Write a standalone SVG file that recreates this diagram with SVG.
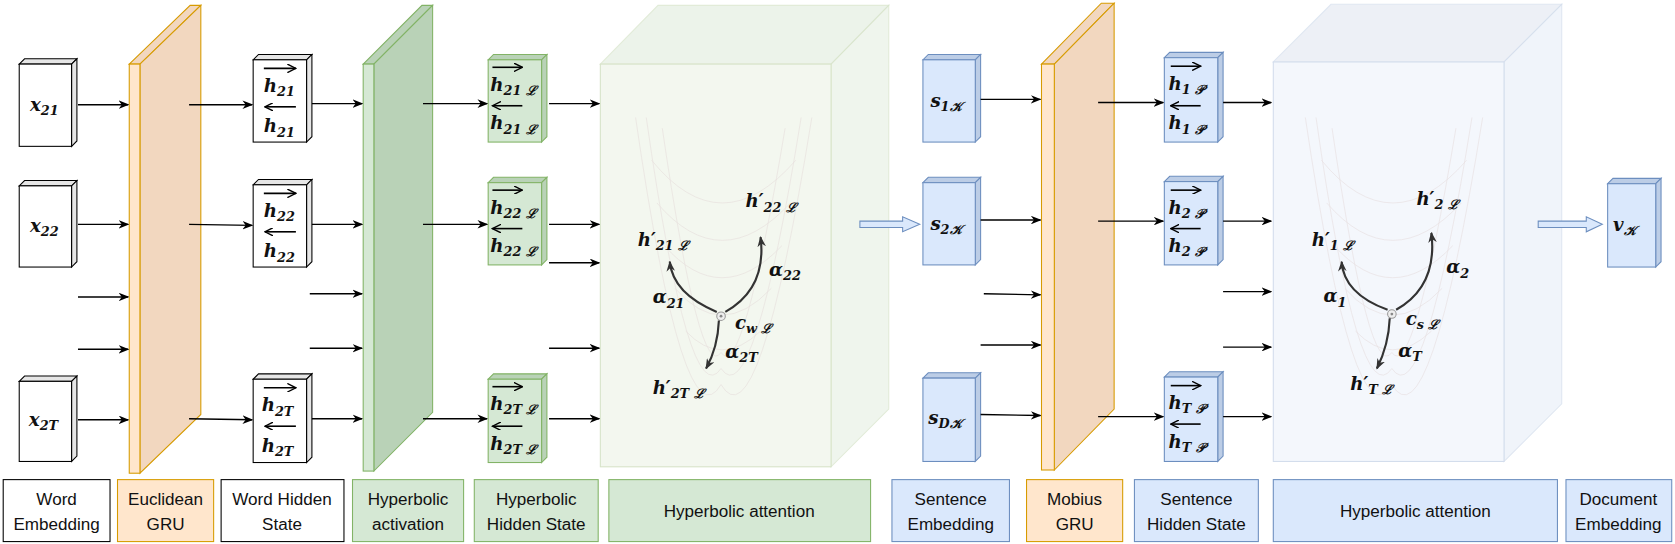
<svg xmlns="http://www.w3.org/2000/svg" width="1675" height="544" viewBox="0 0 1675 544">
<style>
.m{font-family:"DejaVu Serif",serif;font-style:italic;font-weight:bold;font-size:17px;fill:#111}
.s{font-size:12px}
.lg{font-family:"Liberation Sans",Arial,sans-serif;font-size:16px;fill:#111;text-anchor:middle}
.w{fill:#fff;stroke:#000;stroke-width:1}
.wt{fill:#e6e6e6;stroke:#000}
.g{fill:#d5e8d4;stroke:#82b366}
.gt{fill:#b9d2b7;stroke:#82b366}
.b{fill:#dae8fc;stroke:#6c8ebf}
.bt{fill:#bccde6;stroke:#6c8ebf}
.o{fill:#ffe6cc;stroke:#d79b00}
.ol{fill:#f2d7bf;stroke:#d79b00}
.a{stroke:#000;stroke-width:1.3;fill:none;marker-end:url(#ah)}
.ov{stroke:#000;stroke-width:1.5;fill:none}
.cv{stroke:#333;stroke-width:2;fill:none;marker-end:url(#ah2)}
.mesh{stroke:#e3d6d6;stroke-width:0.6;fill:none;opacity:0.7}
</style>
<defs>
<marker id="ah" markerWidth="10" markerHeight="8" refX="9" refY="4" orient="auto" markerUnits="userSpaceOnUse"><path d="M0,0 L10,4 L0,8 L3,4 z" fill="#000"/></marker>
<marker id="ah2" markerWidth="10" markerHeight="8" refX="9" refY="4" orient="auto" markerUnits="userSpaceOnUse"><path d="M0,0 L10,4 L0,8 L3,4 z" fill="#333"/></marker>
<marker id="ov" markerWidth="9" markerHeight="8" refX="8" refY="4" orient="auto" markerUnits="userSpaceOnUse"><path d="M0,0 L8,4 L0,8" fill="none" stroke="#000" stroke-width="1.3"/></marker>
</defs>
<g transform="scale(1.0682)">
<g id="attnL">
<polygon points="562,60 616,5 832,5 778,60" fill="#e4eee2" stroke="#d6e3c8" opacity="0.7"/>
<polygon points="778,60 832,5 832,383 778,437" fill="#e9f1e6" stroke="#d6e3c8" opacity="0.7"/>
<rect x="562" y="60" width="216" height="377" fill="#f3f7ef" stroke="#d6e3c8"/>
<g class="mesh">
<path d="M595,110 Q640,420 675,360 Q710,420 760,110"/>
<path d="M605,110 Q645,390 675,345 Q705,390 750,110"/>
<path d="M620,120 Q655,360 675,330 Q695,360 735,120"/>
<path d="M610,150 Q675,230 745,150"/>
<path d="M615,190 Q675,260 740,190"/>
<path d="M622,230 Q675,290 732,230"/>
<path d="M632,270 Q675,320 722,270"/>
<path d="M642,310 Q675,345 712,310"/>
</g>
</g>
<g id="attnR">
<polygon points="1192,58 1246,4 1462,4 1408,58" fill="#e6ebf3" stroke="#d3ddec" opacity="0.7"/>
<polygon points="1408,58 1462,4 1462,378 1408,432" fill="#eaf0f8" stroke="#d3ddec" opacity="0.7"/>
<rect x="1192" y="58" width="216" height="374" fill="#f4f7fc" stroke="#d3ddec"/>
<g class="mesh">
<path d="M1222,110 Q1268,420 1303,360 Q1338,420 1388,110"/>
<path d="M1232,110 Q1272,390 1303,345 Q1333,390 1378,110"/>
<path d="M1247,120 Q1282,360 1303,330 Q1323,360 1363,120"/>
<path d="M1237,150 Q1303,230 1373,150"/>
<path d="M1242,190 Q1303,260 1368,190"/>
<path d="M1249,230 Q1303,290 1360,230"/>
<path d="M1259,270 Q1303,320 1350,270"/>
<path d="M1269,310 Q1303,345 1340,310"/>
</g>
</g>

<g id="x21"><polygon class="wt" points="18,60 23,55 72,55 67,60"/><polygon class="wt" points="67,60 72,55 72,132 67,137"/><rect class="w" x="18" y="60" width="49" height="77"/><text class="m" x="28" y="104">x<tspan class="s" dy="4">21</tspan></text></g>
<g id="x22"><polygon class="wt" points="18,174 23,169 72,169 67,174"/><polygon class="wt" points="67,174 72,169 72,245 67,250"/><rect class="w" x="18" y="174" width="49" height="76"/><text class="m" x="28" y="217">x<tspan class="s" dy="4">22</tspan></text></g>
<g id="x2T"><polygon class="wt" points="18,357 23,352 72,352 67,357"/><polygon class="wt" points="67,357 72,352 72,427 67,432"/><rect class="w" x="18" y="357" width="49" height="75"/><text class="m" x="27" y="399">x<tspan class="s" dy="4">2T</tspan></text></g>

<g id="egru"><polygon class="ol" points="121,60 178,5 188,5 131,60"/><polygon class="ol" points="131,60 188,5 188,388 131,443"/><rect class="o" x="121" y="60" width="10" height="383"/></g>

<g id="h21"><polygon class="wt" points="237,56 242,51 292,51 287,56"/><polygon class="wt" points="287,56 292,51 292,128 287,133"/><rect class="w" x="237" y="56" width="50" height="77"/>
<line class="ov" x1="247" y1="64" x2="277" y2="64" marker-end="url(#ov)"/><text class="m" x="247" y="86">h<tspan class="s" dy="4">21</tspan></text>
<line class="ov" x1="277" y1="100" x2="248" y2="100" marker-end="url(#ov)"/><text class="m" x="247" y="124">h<tspan class="s" dy="4">21</tspan></text></g>
<g id="h22"><polygon class="wt" points="237,173 242,168 292,168 287,173"/><polygon class="wt" points="287,173 292,168 292,245 287,250"/><rect class="w" x="237" y="173" width="50" height="77"/>
<line class="ov" x1="247" y1="181" x2="277" y2="181" marker-end="url(#ov)"/><text class="m" x="247" y="203">h<tspan class="s" dy="4">22</tspan></text>
<line class="ov" x1="277" y1="217" x2="248" y2="217" marker-end="url(#ov)"/><text class="m" x="247" y="241">h<tspan class="s" dy="4">22</tspan></text></g>
<g id="h2T"><polygon class="wt" points="237,355 242,350 292,350 287,355"/><polygon class="wt" points="287,355 292,350 292,428 287,433"/><rect class="w" x="237" y="355" width="50" height="78"/>
<line class="ov" x1="247" y1="363" x2="277" y2="363" marker-end="url(#ov)"/><text class="m" x="245" y="385">h<tspan class="s" dy="4">2T</tspan></text>
<line class="ov" x1="277" y1="399" x2="248" y2="399" marker-end="url(#ov)"/><text class="m" x="245" y="423">h<tspan class="s" dy="4">2T</tspan></text></g>

<g id="hact"><polygon class="gt" points="340,60 395,5 405,5 350,60"/><polygon class="gt" points="350,60 405,5 405,386 350,441"/><rect class="g" x="340" y="60" width="10" height="381"/></g>

<g id="hl21"><polygon class="gt" points="457,56 462,51 512,51 507,56"/><polygon class="gt" points="507,56 512,51 512,128 507,133"/><rect class="g" x="457" y="56" width="50" height="77"/>
<line class="ov" x1="461" y1="63" x2="489" y2="63" marker-end="url(#ov)"/><text class="m" x="459" y="85">h<tspan class="s" dy="4">21 ℒ</tspan></text>
<line class="ov" x1="489" y1="99" x2="461" y2="99" marker-end="url(#ov)"/><text class="m" x="459" y="121">h<tspan class="s" dy="4">21 ℒ</tspan></text></g>
<g id="hl22"><polygon class="gt" points="457,171 462,166 512,166 507,171"/><polygon class="gt" points="507,171 512,166 512,243 507,248"/><rect class="g" x="457" y="171" width="50" height="77"/>
<line class="ov" x1="461" y1="178" x2="489" y2="178" marker-end="url(#ov)"/><text class="m" x="459" y="200">h<tspan class="s" dy="4">22 ℒ</tspan></text>
<line class="ov" x1="489" y1="214" x2="461" y2="214" marker-end="url(#ov)"/><text class="m" x="459" y="236">h<tspan class="s" dy="4">22 ℒ</tspan></text></g>
<g id="hl2T"><polygon class="gt" points="457,355 462,350 512,350 507,355"/><polygon class="gt" points="507,355 512,350 512,428 507,433"/><rect class="g" x="457" y="355" width="50" height="78"/>
<line class="ov" x1="461" y1="362" x2="489" y2="362" marker-end="url(#ov)"/><text class="m" x="459" y="384">h<tspan class="s" dy="4">2T ℒ</tspan></text>
<line class="ov" x1="489" y1="399" x2="461" y2="399" marker-end="url(#ov)"/><text class="m" x="459" y="421">h<tspan class="s" dy="4">2T ℒ</tspan></text></g>

<g id="attnLlabels">
<circle cx="675" cy="296" r="4" fill="#eee" stroke="#999"/><circle cx="675" cy="296" r="1.3" fill="#888"/>
<text class="m" x="597" y="230">h′<tspan class="s" dy="4">21 ℒ</tspan></text>
<text class="m" x="698" y="194">h′<tspan class="s" dy="4">22 ℒ</tspan></text>
<text class="m" x="611" y="284">α<tspan class="s" dy="4">21</tspan></text>
<text class="m" x="720" y="258">α<tspan class="s" dy="4">22</tspan></text>
<text class="m" x="688" y="308">c<tspan class="s" dy="4">w ℒ</tspan></text>
<text class="m" x="679" y="335">α<tspan class="s" dy="4">2T</tspan></text>
<text class="m" x="611" y="369">h′<tspan class="s" dy="4">2T ℒ</tspan></text>
</g>
<g id="attnRlabels">
<circle cx="1303" cy="294" r="4" fill="#eee" stroke="#999"/><circle cx="1303" cy="294" r="1.3" fill="#888"/>
<text class="m" x="1228" y="230">h′<tspan class="s" dy="4">1 ℒ</tspan></text>
<text class="m" x="1326" y="192">h′<tspan class="s" dy="4">2 ℒ</tspan></text>
<text class="m" x="1239" y="283">α<tspan class="s" dy="4">1</tspan></text>
<text class="m" x="1354" y="256">α<tspan class="s" dy="4">2</tspan></text>
<text class="m" x="1316" y="304">c<tspan class="s" dy="4">s ℒ</tspan></text>
<text class="m" x="1309" y="334">α<tspan class="s" dy="4">T</tspan></text>
<text class="m" x="1264" y="365">h′<tspan class="s" dy="4">T ℒ</tspan></text>
</g>

<g id="s1K"><polygon class="bt" points="864,56 869,51 918,51 913,56"/><polygon class="bt" points="913,56 918,51 918,128 913,133"/><rect class="b" x="864" y="56" width="49" height="77"/><text class="m" x="871" y="100">s<tspan class="s" dy="4">1𝒦</tspan></text></g>
<g id="s2K"><polygon class="bt" points="864,171 869,166 918,166 913,171"/><polygon class="bt" points="913,171 918,166 918,243 913,248"/><rect class="b" x="864" y="171" width="49" height="77"/><text class="m" x="871" y="215">s<tspan class="s" dy="4">2𝒦</tspan></text></g>
<g id="sDK"><polygon class="bt" points="864,354 869,349 918,349 913,354"/><polygon class="bt" points="913,354 918,349 918,427 913,432"/><rect class="b" x="864" y="354" width="49" height="78"/><text class="m" x="869" y="397">s<tspan class="s" dy="4">D𝒦</tspan></text></g>

<g id="mgru"><polygon class="ol" points="975,60 1031,3 1043,3 987,60"/><polygon class="ol" points="987,60 1043,3 1043,383 987,440"/><rect class="o" x="975" y="60" width="12" height="380"/></g>

<g id="hp1"><polygon class="bt" points="1090,54 1095,49 1145,49 1140,54"/><polygon class="bt" points="1140,54 1145,49 1145,128 1140,133"/><rect class="b" x="1090" y="54" width="50" height="79"/>
<line class="ov" x1="1096" y1="62" x2="1124" y2="62" marker-end="url(#ov)"/><text class="m" x="1094" y="84">h<tspan class="s" dy="4">1 𝒫</tspan></text>
<line class="ov" x1="1124" y1="99" x2="1096" y2="99" marker-end="url(#ov)"/><text class="m" x="1094" y="121">h<tspan class="s" dy="4">1 𝒫</tspan></text></g>
<g id="hp2"><polygon class="bt" points="1090,170 1095,165 1145,165 1140,170"/><polygon class="bt" points="1140,170 1145,165 1145,243 1140,248"/><rect class="b" x="1090" y="170" width="50" height="78"/>
<line class="ov" x1="1096" y1="178" x2="1124" y2="178" marker-end="url(#ov)"/><text class="m" x="1094" y="200">h<tspan class="s" dy="4">2 𝒫</tspan></text>
<line class="ov" x1="1124" y1="214" x2="1096" y2="214" marker-end="url(#ov)"/><text class="m" x="1094" y="236">h<tspan class="s" dy="4">2 𝒫</tspan></text></g>
<g id="hpT"><polygon class="bt" points="1090,353 1095,348 1145,348 1140,353"/><polygon class="bt" points="1140,353 1145,348 1145,427 1140,432"/><rect class="b" x="1090" y="353" width="50" height="79"/>
<line class="ov" x1="1096" y1="361" x2="1124" y2="361" marker-end="url(#ov)"/><text class="m" x="1094" y="383">h<tspan class="s" dy="4">T 𝒫</tspan></text>
<line class="ov" x1="1124" y1="397" x2="1096" y2="397" marker-end="url(#ov)"/><text class="m" x="1094" y="419">h<tspan class="s" dy="4">T 𝒫</tspan></text></g>

<g id="vK"><polygon class="bt" points="1505,172 1510,167 1555,167 1550,172"/><polygon class="bt" points="1550,172 1555,167 1555,245 1550,250"/><rect class="b" x="1505" y="172" width="45" height="78"/><text class="m" x="1510" y="216">v<tspan class="s" dy="4">𝒦</tspan></text></g>

<g id="connectors">
<line class="a" x1="73" y1="98" x2="120" y2="98"/><line class="a" x1="73" y1="210" x2="120" y2="210"/><line class="a" x1="73" y1="278" x2="120" y2="278"/><line class="a" x1="73" y1="327" x2="120" y2="327"/><line class="a" x1="73" y1="393" x2="120" y2="393"/>
<line class="a" x1="177" y1="98" x2="236" y2="98"/><line class="a" x1="177" y1="210" x2="236" y2="211"/><line class="a" x1="177" y1="392" x2="236" y2="393"/>
<line class="a" x1="292" y1="97" x2="339" y2="97"/><line class="a" x1="292" y1="210" x2="339" y2="210"/><line class="a" x1="290" y1="275" x2="339" y2="275"/><line class="a" x1="290" y1="326" x2="339" y2="326"/><line class="a" x1="292" y1="392" x2="339" y2="392"/>
<line class="a" x1="396" y1="97" x2="456" y2="97"/><line class="a" x1="396" y1="210" x2="456" y2="210"/><line class="a" x1="396" y1="392" x2="456" y2="392"/>
<line class="a" x1="514" y1="97" x2="561" y2="97"/><line class="a" x1="514" y1="210" x2="561" y2="210"/><line class="a" x1="514" y1="246" x2="561" y2="246"/><line class="a" x1="514" y1="326" x2="561" y2="326"/><line class="a" x1="514" y1="392" x2="561" y2="392"/>
<line class="a" x1="918" y1="93" x2="974" y2="93"/><line class="a" x1="918" y1="206" x2="974" y2="206"/><line class="a" x1="921" y1="275" x2="974" y2="276"/><line class="a" x1="918" y1="323" x2="974" y2="323"/><line class="a" x1="918" y1="388" x2="974" y2="389"/>
<line class="a" x1="1028" y1="96" x2="1089" y2="96"/><line class="a" x1="1028" y1="207" x2="1089" y2="207"/><line class="a" x1="1028" y1="390" x2="1089" y2="390"/>
<line class="a" x1="1145" y1="96" x2="1190" y2="96"/><line class="a" x1="1145" y1="207" x2="1190" y2="207"/><line class="a" x1="1145" y1="273" x2="1190" y2="273"/><line class="a" x1="1145" y1="325" x2="1190" y2="325"/><line class="a" x1="1145" y1="390" x2="1190" y2="390"/>
<path d="M805,207 H845 V203 L861,210 L845,217 V213 H805 Z" fill="#dae8fc" stroke="#6c8ebf"/>
<path d="M1440,207 H1485 V203 L1500,210 L1485,217 V213 H1440 Z" fill="#dae8fc" stroke="#6c8ebf"/>
<path class="cv" d="M671,292 Q630,275 627,245"/><path class="cv" d="M679,292 Q718,270 712,222"/><path class="cv" d="M673,300 Q672,325 661,345"/>
<path class="cv" d="M1299,290 Q1258,275 1256,245"/><path class="cv" d="M1307,290 Q1346,268 1340,218"/><path class="cv" d="M1301,298 Q1300,323 1289,345"/>
</g>

<g id="legend">
<rect class="w" x="3" y="449" width="100" height="58"/><text class="lg" x="53" y="473">Word</text><text class="lg" x="53" y="496">Embedding</text>
<rect class="o" x="110" y="449" width="90" height="58"/><text class="lg" x="155" y="473">Euclidean</text><text class="lg" x="155" y="496">GRU</text>
<rect class="w" x="207" y="449" width="115" height="58"/><text class="lg" x="264" y="473">Word Hidden</text><text class="lg" x="264" y="496">State</text>
<rect class="g" x="330" y="449" width="104" height="58"/><text class="lg" x="382" y="473">Hyperbolic</text><text class="lg" x="382" y="496">activation</text>
<rect class="g" x="444" y="449" width="116" height="58"/><text class="lg" x="502" y="473">Hyperbolic</text><text class="lg" x="502" y="496">Hidden State</text>
<rect class="g" x="570" y="449" width="245" height="58"/><text class="lg" x="692" y="484">Hyperbolic attention</text>
<rect class="b" x="835" y="449" width="110" height="58"/><text class="lg" x="890" y="473">Sentence</text><text class="lg" x="890" y="496">Embedding</text>
<rect class="o" x="961" y="449" width="90" height="58"/><text class="lg" x="1006" y="473">Mobius</text><text class="lg" x="1006" y="496">GRU</text>
<rect class="b" x="1062" y="449" width="116" height="58"/><text class="lg" x="1120" y="473">Sentence</text><text class="lg" x="1120" y="496">Hidden State</text>
<rect class="b" x="1192" y="449" width="266" height="58"/><text class="lg" x="1325" y="484">Hyperbolic attention</text>
<rect class="b" x="1466" y="449" width="99" height="58"/><text class="lg" x="1515" y="473">Document</text><text class="lg" x="1515" y="496">Embedding</text>
</g>
</g>
</svg>
